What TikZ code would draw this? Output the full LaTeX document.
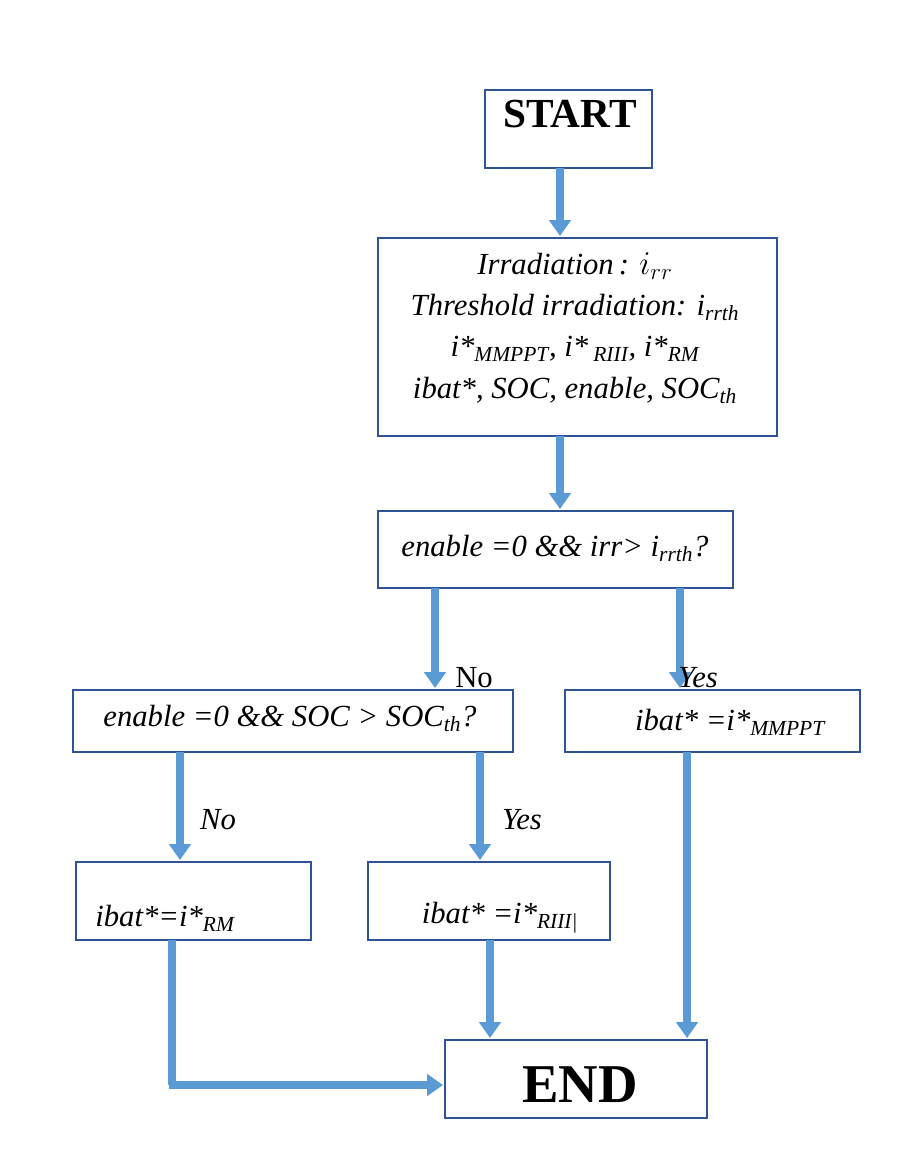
\documentclass[tikz,border=0pt]{standalone}
\usepackage{fontspec}
\setmainfont{Liberation Serif}
\usetikzlibrary{arrows.meta}
\begin{document}
\begin{tikzpicture}[x=0.75pt,y=-0.75pt,
  box/.style={draw={rgb,255:red,47;green,84;blue,150}, line width=1.3pt, fill=white},
  arr/.style={color={rgb,255:red,91;green,155;blue,213}, line width=6pt, -{Triangle[length=12pt,width=16pt]}},
  seg/.style={color={rgb,255:red,91;green,155;blue,213}, line width=6pt},
  txt/.style={font=\fontsize{23}{31}\selectfont\itshape},
  lab/.style={font=\fontsize{23}{28}\selectfont}]
\useasboundingbox (0,0) rectangle (899,1154);
\draw[box] (485,90) rectangle (652,168);
\node[font=\fontsize{31}{36}\selectfont\bfseries] (start) at (570,114) {START};
\draw[box] (378,238) rectangle (777,436);
\node[txt,align=center] (b2) at (575,328) {Irradiation\,: $i_{rr}$\\Threshold irradiation: i\textsubscript{rrth}\\i*\textsubscript{MMPPT}, i*\,\textsubscript{RIII}, i*\textsubscript{RM}\\ibat*, SOC, enable, SOC\textsubscript{th}};
\draw[box] (378,511) rectangle (733,588);
\node[txt] (b3) at (555,548) {enable =0 \&\& irr> i\textsubscript{rrth}?};
\draw[box] (73,690) rectangle (513,752);
\node[txt] (b4) at (290,718) {enable =0 \&\& SOC > SOC\textsubscript{th}?};
\draw[box] (565,690) rectangle (860,752);
\node[txt] (b5) at (730,722) {ibat* =i*\textsubscript{MMPPT}};
\draw[box] (76,862) rectangle (311,940);
\node[txt] (b6) at (165,918) {ibat*=i*\textsubscript{RM}};
\draw[box] (368,862) rectangle (610,940);
\node[txt] (b7) at (500,918) {ibat* =i*\textsubscript{RIII|}};
\draw[box] (445,1040) rectangle (707,1118);
\node[font=\fontsize{41}{46}\selectfont\bfseries] (e) at (580,1085) {END};
\draw[arr] (560,168) -- (560,236);
\draw[arr] (560,436) -- (560,509);
\draw[arr] (435,588) -- (435,688);
\draw[arr] (680,588) -- (680,688);
\draw[arr] (180,752) -- (180,860);
\draw[arr] (480,752) -- (480,860);
\draw[arr] (490,940) -- (490,1038);
\draw[arr] (687,752) -- (687,1038);
\draw[seg] (172,940) -- (172,1085);
\draw[arr] (169,1085) -- (443,1085);
\node[lab] at (474,678) {No};
\node[txt] at (698,678) {Yes};
\node[txt] at (218,820) {No};
\node[txt] at (522,820) {Yes};
\end{tikzpicture}
\end{document}
